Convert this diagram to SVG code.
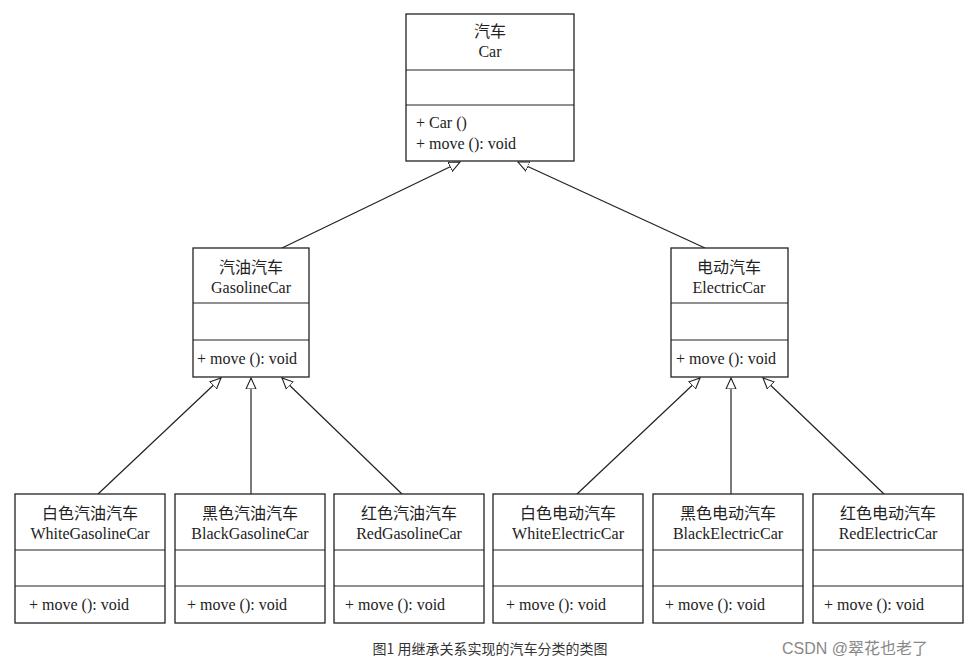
<svg xmlns="http://www.w3.org/2000/svg" width="980" height="665" viewBox="0 0 980 665">
<style>
.b{fill:#fff;stroke:#222;stroke-width:1.3}
.l{stroke:#222;stroke-width:1.2}
.t{font-family:"Liberation Serif","Noto Sans CJK SC",serif;font-size:16px;fill:#222}
.c{text-anchor:middle}
.cap{font-family:"Noto Sans CJK SC",sans-serif;font-size:14px;fill:#333;text-anchor:middle}
.wm{font-family:"Liberation Sans","Noto Sans CJK SC",sans-serif;font-size:16px;fill:#888}
</style>
<defs><marker id="a" viewBox="0 0 12 12" refX="11" refY="6" markerWidth="12" markerHeight="12" markerUnits="userSpaceOnUse" orient="auto"><path d="M0,1 L11,6 L0,11 Z" fill="#fff" stroke="#222" stroke-width="1.1"/></marker></defs>
<g id="connectors">
<line class="l" x1="282" y1="248" x2="460" y2="162" marker-end="url(#a)"/>
<line class="l" x1="705" y1="248" x2="518" y2="162" marker-end="url(#a)"/>
<line class="l" x1="98" y1="494" x2="221" y2="378" marker-end="url(#a)"/>
<line class="l" x1="251" y1="494" x2="251" y2="378" marker-end="url(#a)"/>
<line class="l" x1="402" y1="494" x2="282" y2="378" marker-end="url(#a)"/>
<line class="l" x1="577" y1="494" x2="700" y2="378" marker-end="url(#a)"/>
<line class="l" x1="731" y1="494" x2="731" y2="378" marker-end="url(#a)"/>
<line class="l" x1="884" y1="494" x2="763" y2="378" marker-end="url(#a)"/>
</g>
<g id="car"><rect class="b" x="406" y="14" width="168" height="147"/><line class="l" x1="406" y1="70" x2="574" y2="70"/><line class="l" x1="406" y1="105" x2="574" y2="105"/>
<text class="t c" x="490" y="37">汽车</text><text class="t c" x="490" y="57">Car</text>
<text class="t" x="416" y="128">+ Car ()</text><text class="t" x="416" y="149">+ move (): void</text></g>
<g id="gasoline"><rect class="b" x="193" y="248" width="116" height="129"/><line class="l" x1="193" y1="303" x2="309" y2="303"/><line class="l" x1="193" y1="340" x2="309" y2="340"/>
<text class="t c" x="251" y="273">汽油汽车</text><text class="t c" x="251" y="293">GasolineCar</text><text class="t" x="197" y="364">+ move (): void</text></g>
<g id="electric"><rect class="b" x="671" y="248" width="117" height="129"/><line class="l" x1="671" y1="303" x2="788" y2="303"/><line class="l" x1="671" y1="340" x2="788" y2="340"/>
<text class="t c" x="729" y="273">电动汽车</text><text class="t c" x="729" y="293">ElectricCar</text><text class="t" x="676" y="364">+ move (): void</text></g>
<g id="wg"><rect class="b" x="15" y="494" width="150" height="129"/><line class="l" x1="15" y1="550" x2="165" y2="550"/><line class="l" x1="15" y1="586" x2="165" y2="586"/>
<text class="t c" x="90" y="519">白色汽油汽车</text><text class="t c" x="90" y="539">WhiteGasolineCar</text><text class="t" x="29" y="610">+ move (): void</text></g>
<g id="bg"><rect class="b" x="175" y="494" width="150" height="129"/><line class="l" x1="175" y1="550" x2="325" y2="550"/><line class="l" x1="175" y1="586" x2="325" y2="586"/>
<text class="t c" x="250" y="519">黑色汽油汽车</text><text class="t c" x="250" y="539">BlackGasolineCar</text><text class="t" x="187" y="610">+ move (): void</text></g>
<g id="rg"><rect class="b" x="334" y="494" width="150" height="129"/><line class="l" x1="334" y1="550" x2="484" y2="550"/><line class="l" x1="334" y1="586" x2="484" y2="586"/>
<text class="t c" x="409" y="519">红色汽油汽车</text><text class="t c" x="409" y="539">RedGasolineCar</text><text class="t" x="345" y="610">+ move (): void</text></g>
<g id="we"><rect class="b" x="493" y="494" width="150" height="129"/><line class="l" x1="493" y1="550" x2="643" y2="550"/><line class="l" x1="493" y1="586" x2="643" y2="586"/>
<text class="t c" x="568" y="519">白色电动汽车</text><text class="t c" x="568" y="539">WhiteElectricCar</text><text class="t" x="506" y="610">+ move (): void</text></g>
<g id="be"><rect class="b" x="653" y="494" width="150" height="129"/><line class="l" x1="653" y1="550" x2="803" y2="550"/><line class="l" x1="653" y1="586" x2="803" y2="586"/>
<text class="t c" x="728" y="519">黑色电动汽车</text><text class="t c" x="728" y="539">BlackElectricCar</text><text class="t" x="665" y="610">+ move (): void</text></g>
<g id="re"><rect class="b" x="813" y="494" width="150" height="129"/><line class="l" x1="813" y1="550" x2="963" y2="550"/><line class="l" x1="813" y1="586" x2="963" y2="586"/>
<text class="t c" x="888" y="519">红色电动汽车</text><text class="t c" x="888" y="539">RedElectricCar</text><text class="t" x="824" y="610">+ move (): void</text></g>
<text class="cap" x="490" y="654">图1 用继承关系实现的汽车分类的类图</text>
<text class="wm" x="782" y="654">CSDN @翠花也老了</text>
</svg>
